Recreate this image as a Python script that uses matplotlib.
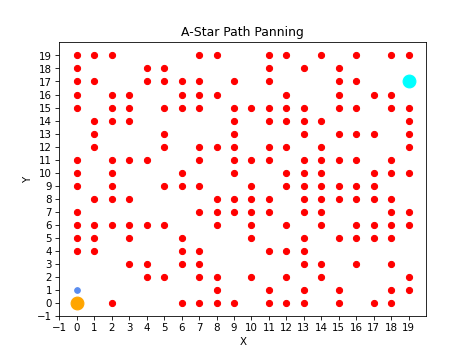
import matplotlib
matplotlib.use("Agg")
import matplotlib.pyplot as plt

# obstacle x-columns for each row y
rows = {
    19: [0, 1, 2, 7, 8, 11, 12, 14, 16, 18, 19],
    18: [0, 4, 5, 11, 13, 15],
    17: [0, 1, 4, 5, 6, 7, 9, 11, 15, 16],
    16: [0, 2, 3, 6, 7, 8, 12, 15, 17, 18],
    15: [0, 2, 3, 5, 6, 7, 9, 10, 11, 12, 13, 15, 16, 18, 19],
    14: [1, 2, 3, 9, 11, 12, 13, 14, 19],
    13: [1, 5, 9, 13, 15, 16, 17, 19],
    12: [1, 5, 7, 8, 9, 11, 12, 14, 19],
    11: [0, 2, 3, 4, 7, 9, 10, 11, 13, 14, 15, 16, 18],
    10: [0, 2, 6, 9, 12, 13, 14, 17, 18, 19],
    9: [0, 2, 5, 6, 7, 10, 12, 13, 14, 15, 16, 17],
    8: [1, 2, 3, 8, 9, 10, 11, 13, 14, 15, 16, 17, 18],
    7: [0, 7, 8, 9, 10, 11, 13, 14, 18, 19],
    6: [0, 1, 2, 3, 4, 5, 8, 10, 12, 14, 16, 17, 18, 19],
    5: [0, 1, 3, 6, 10, 13, 15, 16, 17, 18],
    4: [0, 1, 6, 7, 11, 12, 13],
    3: [3, 4, 6, 7, 13, 14, 16, 18],
    2: [4, 5, 7, 8, 10, 12, 14, 19],
    1: [8, 11, 13, 15, 18, 19],
    0: [2, 6, 7, 8, 9, 11, 12, 13, 15, 17, 18],
}
obs_x = [x for y, xs in rows.items() for x in xs]
obs_y = [y for y, xs in rows.items() for x in xs]

start = (0, 0)
goal = (19, 17)
path_x = [0]
path_y = [1]

fig = plt.figure(figsize=(6.4, 4.8), dpi=74)
ax = fig.add_subplot(111)
ax.plot(obs_x, obs_y, 'o', color='red', markersize=6, linestyle='none')
ax.plot(path_x, path_y, 'o', color='#5b8def', markersize=5.5)
ax.plot(start[0], start[1], 'o', color='orange', markersize=12.5)
ax.plot(goal[0], goal[1], 'o', color='cyan', markersize=12.5)
ax.set_xlim(-1, 20)
ax.set_ylim(-1, 20)
ax.set_xticks(range(-1, 20))
ax.set_yticks(range(-1, 20))
ax.set_title("A-Star Path Panning")
ax.set_xlabel("X")
ax.set_ylabel("Y")
fig.savefig("out.png", dpi=74)
